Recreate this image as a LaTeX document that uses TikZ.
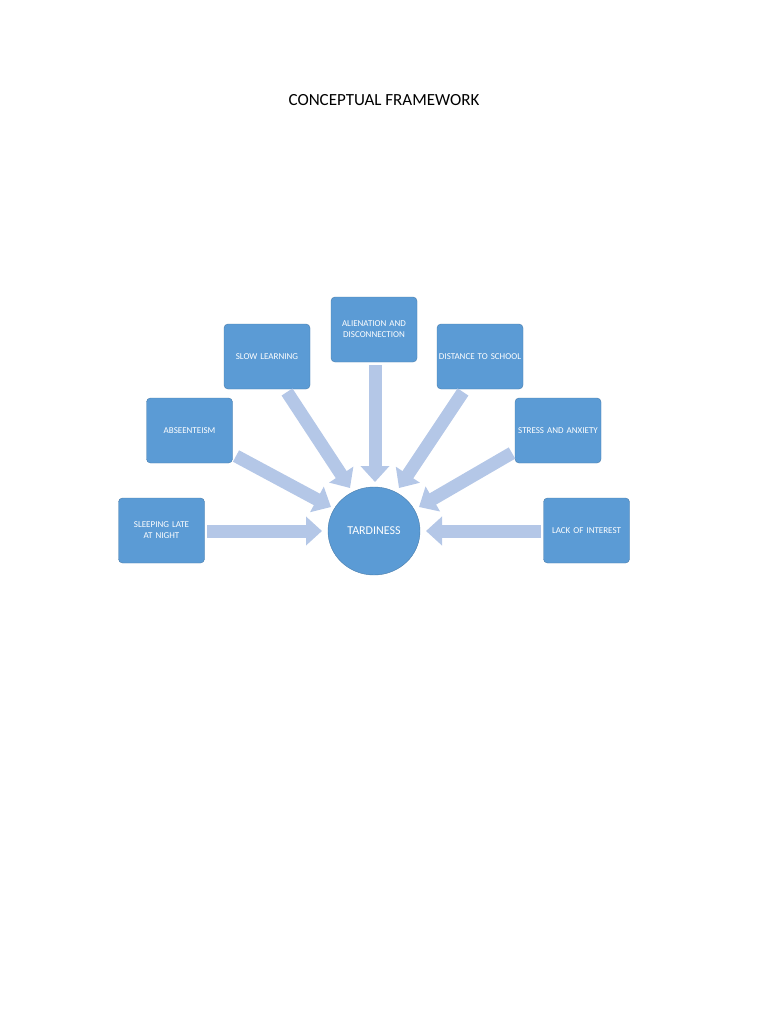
\documentclass[tikz,border=0pt]{standalone}
\usepackage{fontspec}
\setmainfont{Carlito}
\usetikzlibrary{arrows.meta,shapes.geometric}
\definecolor{boxblue}{HTML}{5B9BD5}
\definecolor{arrblue}{HTML}{B4C7E7}
\begin{document}
\begin{tikzpicture}[x=1pt,y=-1pt,
  cbox/.style={draw=boxblue!80!black,line width=0.4pt,fill=boxblue,rounded corners=4pt,minimum width=86pt,minimum height=65pt,text width=84pt,align=center,text=white,font=\fontsize{9}{11}\selectfont,inner sep=1pt},
  barrow/.style={draw=arrblue,line width=13pt,-{Triangle[length=16pt,width=28pt]}}]
\useasboundingbox (0,0) rectangle (768,1024);
\node[font=\fontsize{17}{20}\selectfont] (title) at (384,100) {CONCEPTUAL FRAMEWORK};
\node[cbox] (sl) at (161.5,530.5) {SLEEPING LATE AT NIGHT};
\node[cbox] (ab) at (189.5,430.5) {ABSEENTEISM};
\node[cbox] (sw) at (267,356.5) {SLOW LEARNING};
\node[cbox] (al) at (374,329.5) {ALIENATION AND DISCONNECTION};
\node[cbox] (di) at (480,356.5) {DISTANCE TO SCHOOL};
\node[cbox] (st) at (558,430.5) {STRESS AND ANXIETY};
\node[cbox] (la) at (586.5,530.5) {LACK OF INTEREST};
\node[ellipse,draw=boxblue!80!black,fill=boxblue,minimum width=92pt,minimum height=88pt,text=white,font=\fontsize{12}{14}\selectfont,inner sep=0pt] (ta) at (374,531) {TARDINESS};
\coordinate (sl1) at (207,531); \coordinate (sl2) at (322,531);
\coordinate (la1) at (541,531); \coordinate (la2) at (426,531);
\coordinate (al1) at (375,365); \coordinate (al2) at (375,482);
\coordinate (ab1) at (236,456); \coordinate (ab2) at (331,507);
\coordinate (sw1) at (287,392); \coordinate (sw2) at (350,488);
\coordinate (di1) at (463,392); \coordinate (di2) at (399,488);
\coordinate (st1) at (512,453); \coordinate (st2) at (419,507);
\foreach \a in {sl,la,al,ab,sw,di,st} {\draw[barrow] (\a1) -- (\a2);}
\end{tikzpicture}
\end{document}
